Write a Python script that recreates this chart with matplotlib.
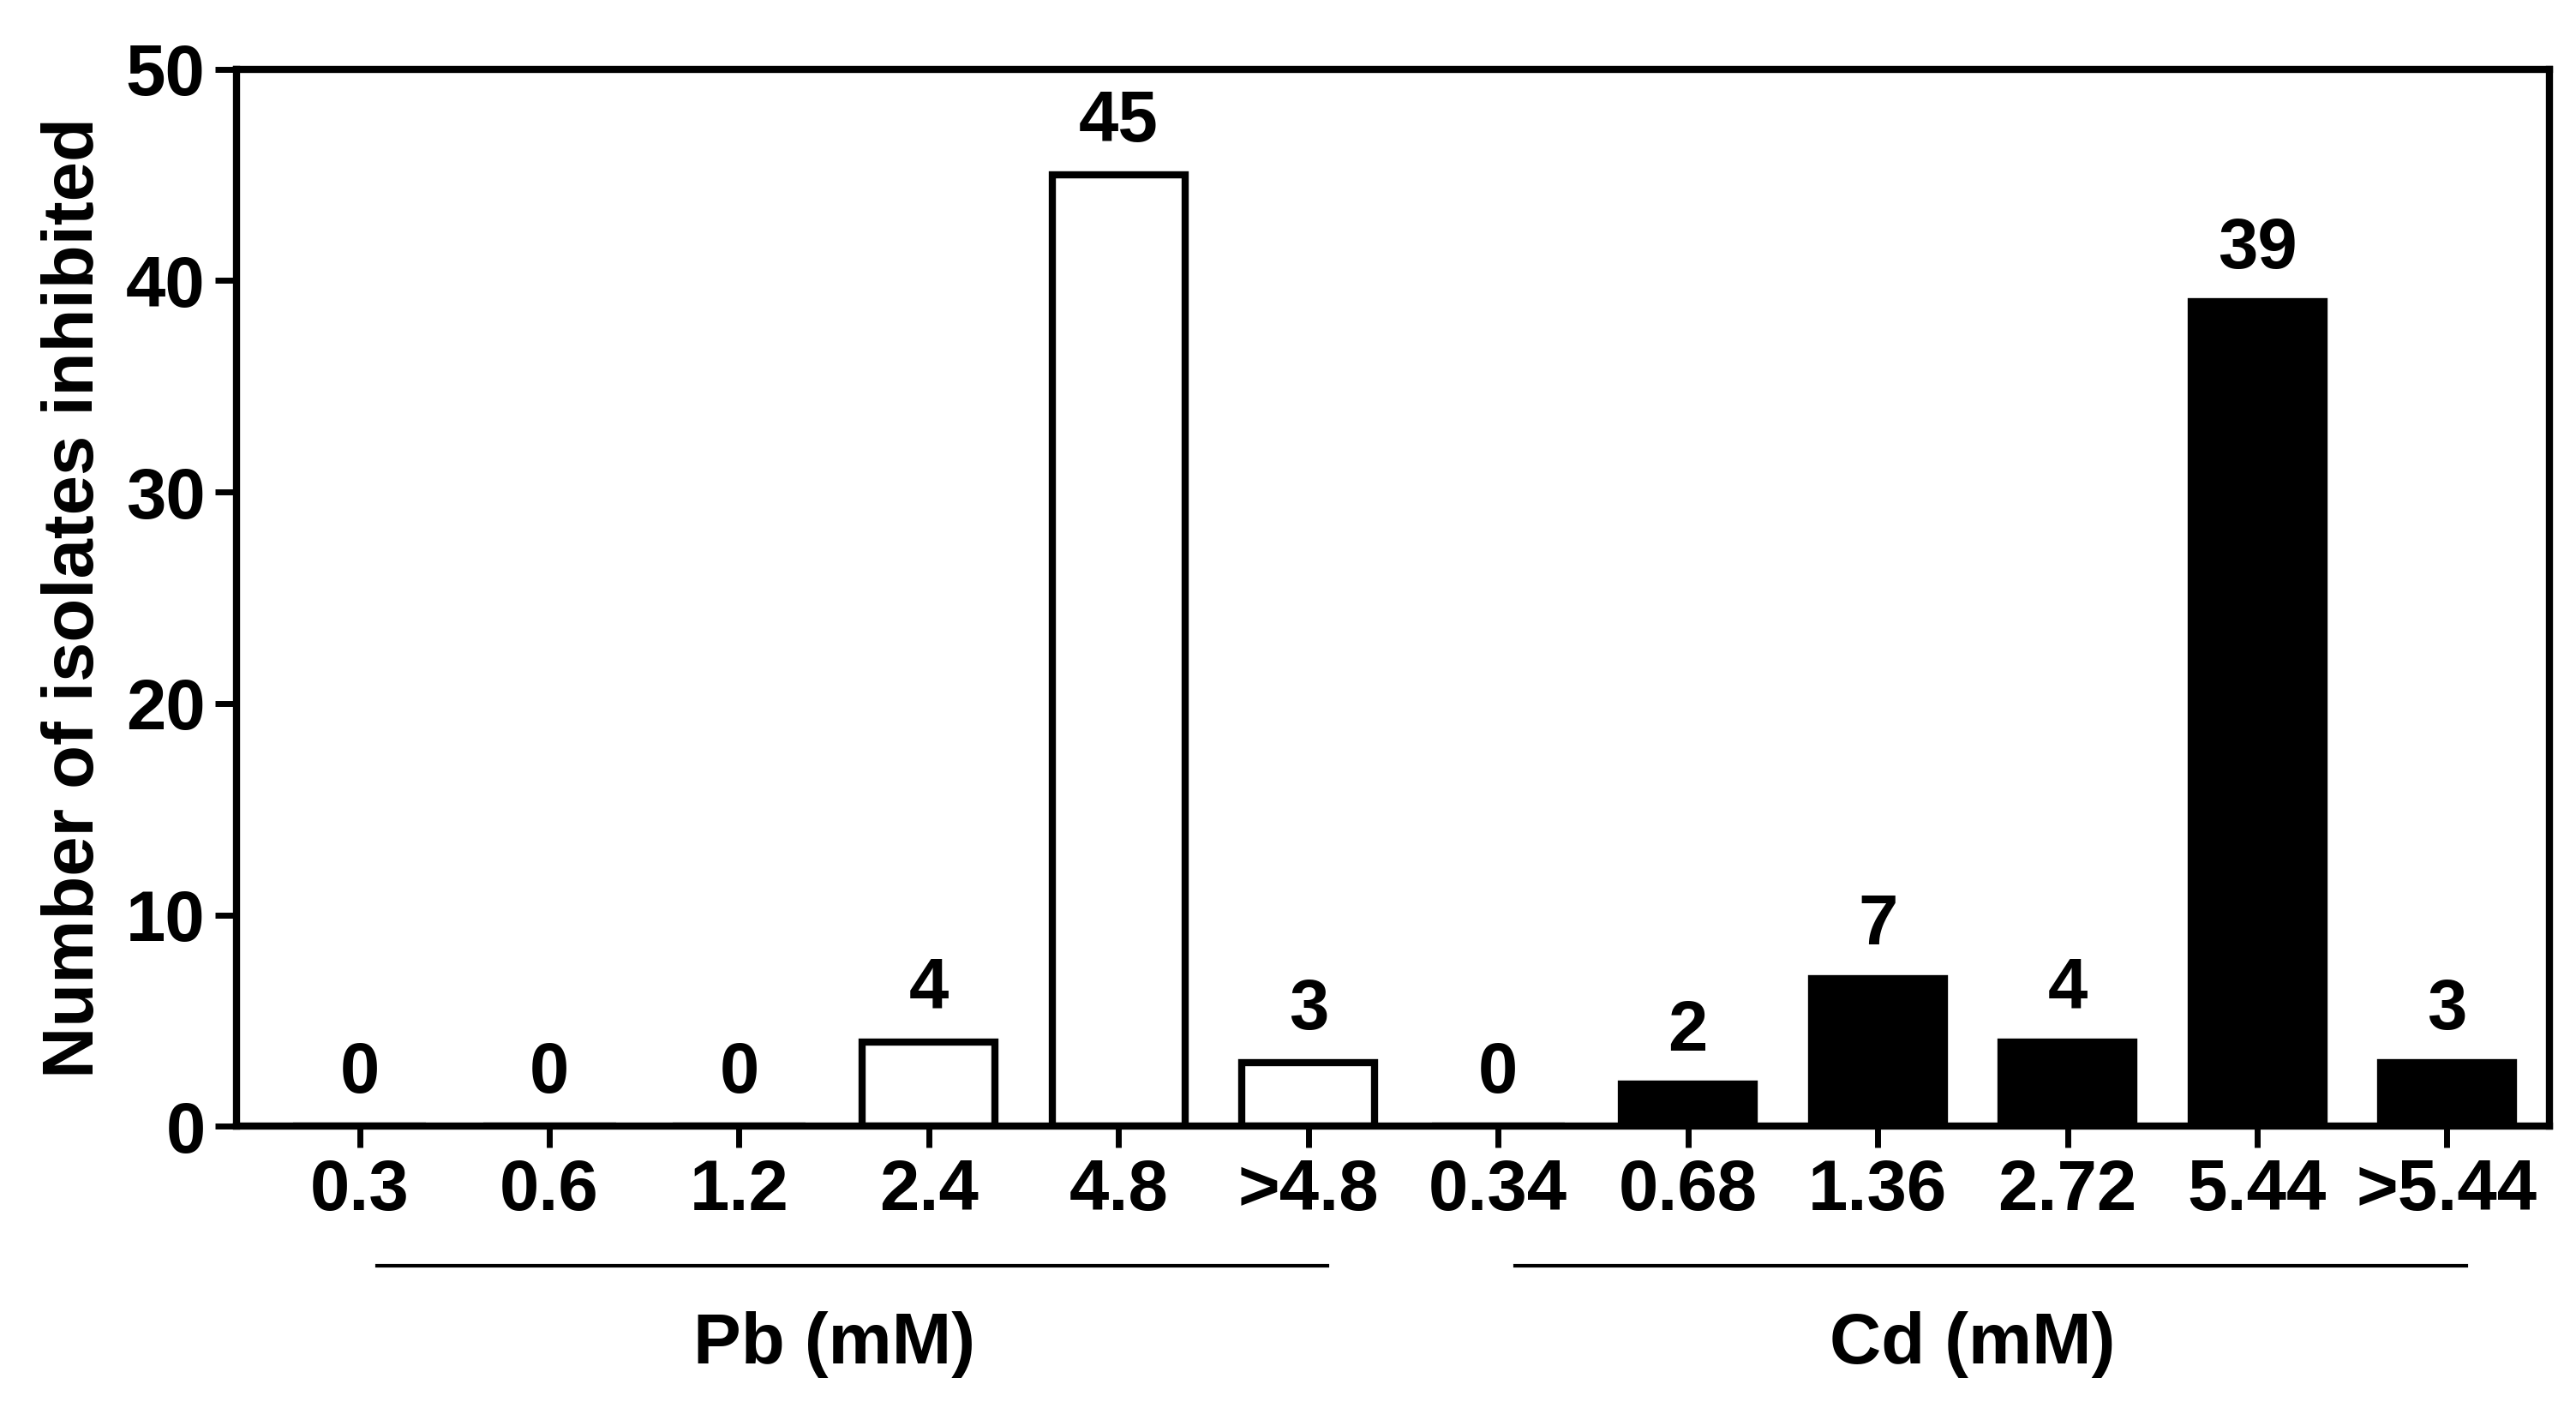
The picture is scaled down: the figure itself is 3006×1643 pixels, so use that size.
import matplotlib
matplotlib.use("Agg")
import matplotlib.pyplot as plt

pb_labels = ["0.3", "0.6", "1.2", "2.4", "4.8", ">4.8"]
pb_values = [0, 0, 0, 4, 45, 3]
cd_labels = ["0.34", "0.68", "1.36", "2.72", "5.44", ">5.44"]
cd_values = [0, 2, 7, 4, 39, 3]
group_labels = ["Pb (mM)", "Cd (mM)"]

plt.rcParams['font.family'] = ['Liberation Sans', 'DejaVu Sans']
plt.rcParams['font.weight'] = 'bold'

FS = 60
fig = plt.figure(figsize=(30.06, 16.43), dpi=100)
ax = fig.add_axes([0.0917, 0.2, 0.898, 0.751])

labels = pb_labels + cd_labels
vals = pb_values + cd_values
x = list(range(len(labels)))
colors = ["white"] * 6 + ["black"] * 6
ax.bar(x, vals, width=0.7, color=colors, edgecolor="black", linewidth=6)
for xi, v in zip(x, vals):
    ax.text(xi, v + 0.9, str(v), ha="center", va="bottom", fontsize=FS, fontweight="bold")

ax.set_xlim(-0.65, 11.54)
ax.set_ylim(0, 50)
ax.set_yticks([0, 10, 20, 30, 40, 50])
ax.set_xticks(x)
ax.set_xticklabels(labels)
ax.tick_params(axis="both", direction="out", length=18, width=5, labelsize=FS, pad=8)
for lab in ax.get_xticklabels() + ax.get_yticklabels():
    lab.set_fontweight("bold")
for s in ax.spines.values():
    s.set_linewidth(6)
ax.set_ylabel("Number of isolates inhibited", fontsize=FS, fontweight="bold", labelpad=15)

for g, (a, b) in enumerate([(0, 5), (6, 11)]):
    ax.plot([a + 0.09, b + 0.1], [-6.6, -6.6], color="black", lw=3, clip_on=False)
    ax.text((a + b) / 2, -10.3, group_labels[g], ha="center", va="center",
            fontsize=FS, fontweight="bold")

fig.savefig("out.png", dpi=100)
